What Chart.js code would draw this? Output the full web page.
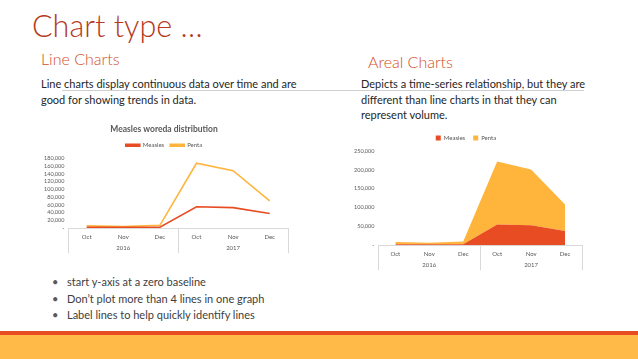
<!DOCTYPE html>
<html lang="en">
<head>
  <meta charset="UTF-8">
  <title>Chart type</title>
  <script src="https://cdn.jsdelivr.net/npm/chart.js"></script>
  <style>
    body {
      margin: 0;
      width: 638px;
      height: 359px;
      overflow: hidden;
      background: #fff;
      font-family: 'Lato', 'Open Sans', sans-serif;
      position: relative;
    }
    .abs { position: absolute; white-space: nowrap; }
    .title { left: 32px; top: 7px; font-size: 30.5px; font-weight: 300; color: #b5391d; }
    .head { font-size: 16px; font-weight: 300; color: #d24f2a; }
    .para { font-size: 11px; color: #262626; line-height: 15.5px; }
    .rule { left: 62px; top: 90px; width: 522px; height: 1px; background: #cfcfcf; }
    .bullets { left: 52px; top: 274px; font-size: 11px; color: #404040; line-height: 16.5px; }
    .bullets span { display: inline-block; width: 15px; color: #595959; }
    .band-red { left: 0; top: 331px; width: 638px; height: 4px; background: #e84c22; }
    .band-orange { left: 0; top: 335px; width: 638px; height: 24px; background: #ffba47; }
    canvas { position: absolute; }
  </style>
</head>
<body>
  <div class="abs rule"></div>
  <div class="abs title">Chart type …</div>
  <div class="abs head" style="left:41px; top:49px;">Line Charts</div>
  <div class="abs head" style="left:368px; top:52px;">Areal Charts</div>
  <div class="abs para" style="left:41px; top:76px;">Line charts display continuous data over time and are<br>good for showing trends in data.</div>
  <div class="abs para" style="left:361px; top:76px;">Depicts a time-series relationship, but they are<br>different than line charts in that they can<br>represent volume.</div>

  <canvas id="lineChart" width="265" height="140" style="left:30px; top:118px;"></canvas>
  <canvas id="areaChart" width="245" height="147" style="left:345px; top:127px;"></canvas>

  <div class="abs bullets">
    <span>•</span>start y-axis at a zero baseline<br>
    <span>•</span>Don’t plot more than 4 lines in one graph<br>
    <span>•</span>Label lines to help quickly identify lines
  </div>

  <div class="abs band-red"></div>
  <div class="abs band-orange"></div>

  <script>
    // data
    const months = ['Oct', 'Nov', 'Dec', 'Oct', 'Nov', 'Dec'];
    const years = ['2016', '2017'];
    const measles = [2500, 2500, 2500, 55000, 53000, 38000];
    const penta = [6000, 4000, 7500, 167000, 148000, 70000];

    const RED = '#e84c22';
    const AMBER = '#ffb43c';
    const GREY_TXT = '#595959';
    const SEP = '#d9d9d9';

    const tinyFont = { family: 'Lato', size: 6 };
    const perYear = months.length / years.length;

    // month row + year row under the middle month of each group
    function monthYearLabel(v, i) {
      return [months[i], i % perYear === 1 ? years[Math.floor(i / perYear)] : ''];
    }

    // vertical separators between the year groups, below the axis line
    const groupLines = {
      id: 'groupLines',
      afterDraw(chart) {
        const x = chart.scales.x;
        const half = (x.getPixelForValue(1) - x.getPixelForValue(0)) / 2;
        const ctx = chart.ctx;
        ctx.save();
        ctx.strokeStyle = SEP;
        ctx.lineWidth = 1;
        for (let i = 0; i <= months.length; i += perYear) {
          const px = Math.round(x.getPixelForValue(i) - half) + 0.5;
          ctx.beginPath();
          ctx.moveTo(px, x.top);
          ctx.lineTo(px, x.top + 25);
          ctx.stroke();
        }
        ctx.restore();
      }
    };

    function xAxis() {
      return {
        offset: true,
        border: { display: true, color: SEP },
        grid: { display: false, drawTicks: false },
        ticks: { callback: monthYearLabel, font: { family: 'Lato', size: 6, lineHeight: 1.8 }, color: GREY_TXT, padding: 3.6, maxRotation: 0, autoSkip: false }
      };
    }

    function yTick(v) {
      return v === 0 ? '-' : v.toLocaleString('en-US');
    }

    new Chart(document.getElementById('lineChart'), {
      type: 'line',
      data: {
        labels: months,
        datasets: [
          { label: 'Measles', data: measles, borderColor: RED, backgroundColor: RED, borderWidth: 1.6, pointRadius: 0, tension: 0, fill: false },
          { label: 'Penta', data: penta, borderColor: AMBER, backgroundColor: AMBER, borderWidth: 1.6, pointRadius: 0, tension: 0, fill: false }
        ]
      },
      plugins: [groupLines],
      options: {
        responsive: false,
        animation: false,
        layout: { padding: { left: 10, right: 7, bottom: 1, top: 3 } },
        plugins: {
          title: { display: true, text: 'Measles woreda distribution', color: GREY_TXT, font: { family: 'Lato', size: 8.5 }, padding: { top: 3, bottom: 2 } },
          legend: { labels: { boxWidth: 14, boxHeight: 2, font: tinyFont, color: GREY_TXT, padding: 6 } },
          tooltip: { enabled: false }
        },
        scales: {
          x: xAxis(),
          y: {
            min: 0, max: 180000,
            border: { display: false },
            grid: { display: false, drawTicks: false },
            ticks: { stepSize: 20000, autoSkip: false, callback: yTick, font: { family: 'Lato', size: 5.5 }, color: GREY_TXT, padding: 4 }
          }
        }
      }
    });

    new Chart(document.getElementById('areaChart'), {
      type: 'line',
      data: {
        labels: months,
        datasets: [
          { label: 'Measles', data: measles, borderColor: RED, backgroundColor: RED, borderWidth: 0, pointRadius: 0, tension: 0, fill: 'origin' },
          { label: 'Penta', data: penta, borderColor: AMBER, backgroundColor: AMBER, borderWidth: 0, pointRadius: 0, tension: 0, fill: '-1' }
        ]
      },
      plugins: [groupLines],
      options: {
        responsive: false,
        animation: false,
        layout: { padding: { left: 5, right: 8, bottom: 0, top: 0 } },
        plugins: {
          legend: { labels: { boxWidth: 5, boxHeight: 5, font: tinyFont, color: GREY_TXT, padding: 8 } },
          tooltip: { enabled: false }
        },
        scales: {
          x: xAxis(),
          y: {
            stacked: true,
            min: 0, max: 250000,
            border: { display: false },
            grid: { display: false, drawTicks: false },
            ticks: { stepSize: 50000, autoSkip: false, callback: yTick, font: { family: 'Lato', size: 5.5 }, color: GREY_TXT, padding: 4 }
          }
        }
      }
    });
  </script>
</body>
</html>
